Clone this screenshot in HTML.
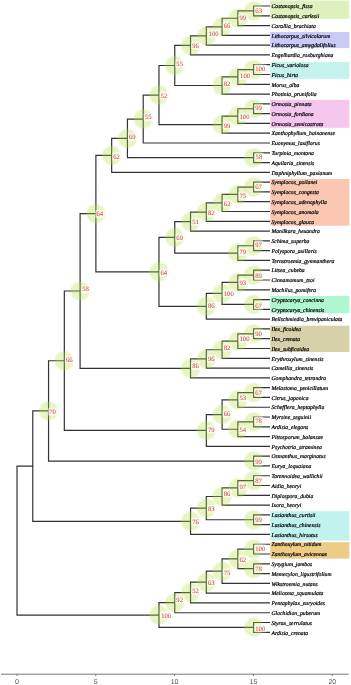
<!DOCTYPE html>
<html><head><meta charset="utf-8"><title>Phylogenetic tree</title>
<style>
html,body{margin:0;padding:0;background:#fff;}
body{width:351px;height:685px;overflow:hidden;}
svg{display:block;}
text{text-rendering:geometricPrecision;}
.lf{font-family:"Liberation Serif",serif;font-style:italic;font-weight:normal;font-size:5.7px;fill:#000;stroke:#000;stroke-width:0.2px;}
.bs{font-family:"Liberation Serif",serif;font-size:6.7px;fill:#d63445;}
.ax{font-family:"Liberation Sans",sans-serif;font-size:7px;fill:#555;}
</style></head><body>
<div id="w"><svg width="351" height="685" viewBox="0 0 351 685">
<defs><radialGradient id="cg"><stop offset="0" stop-color="#b3df43" stop-opacity="0.32"/><stop offset="0.8" stop-color="#b3df43" stop-opacity="0.32"/><stop offset="1" stop-color="#b3df43" stop-opacity="0"/></radialGradient></defs>
<g>
<rect width="351" height="685" fill="#fff"/>
<g>
<rect x="270.3" y="0.5" width="79" height="18.5" fill="#def0be"/>
<rect x="270.3" y="32" width="79" height="16.1" fill="#cacaf6"/>
<rect x="270.3" y="62.1" width="79" height="16.8" fill="#c3f3ec"/>
<rect x="270.3" y="99.9" width="79" height="27.9" fill="#f5c6ee"/>
<rect x="270.3" y="179" width="79" height="46.7" fill="#fbc6b2"/>
<rect x="270.3" y="296" width="79" height="17.3" fill="#aff7d0"/>
<rect x="270.3" y="325.7" width="79" height="26.3" fill="#d6d1a9"/>
<rect x="270.3" y="511.1" width="79" height="29.5" fill="#c0f3ee"/>
<rect x="270.3" y="542.2" width="79" height="16.4" fill="#eecb86"/>
</g>
<g stroke="#333" stroke-width="1.2" fill="none" stroke-linecap="square">
<path d="M253.64 6H269.42M253.64 15.79H269.42M237.86 10.89H253.64M237.86 25.57H269.42M222.09 18.23H237.86M222.09 35.36H269.42M206.31 26.8H222.09M206.31 45.14H269.42M190.54 35.97H206.31M190.54 54.93H269.42M174.76 45.45H190.54M253.64 64.72H269.42M253.64 74.5H269.42M237.86 69.61H253.64M237.86 84.29H269.42M222.09 76.95H237.86M222.09 94.07H269.42M174.76 85.51H222.09M158.98 65.48H174.76M253.64 103.86H269.42M253.64 113.65H269.42M237.86 108.75H253.64M237.86 123.43H269.42M222.09 116.09H237.86M222.09 133.22H269.42M158.98 124.66H222.09M143.21 95.07H158.98M143.21 143H269.42M127.43 119.04H143.21M253.64 152.79H269.42M253.64 162.58H269.42M127.43 157.68H253.64M111.66 138.36H127.43M111.66 172.36H269.42M95.88 155.36H111.66M253.64 182.15H269.42M253.64 191.93H269.42M237.86 187.04H253.64M237.86 201.72H269.42M222.09 194.38H237.86M222.09 211.51H269.42M206.31 202.94H222.09M206.31 221.29H269.42M190.54 212.12H206.31M190.54 231.08H269.42M174.76 221.6H190.54M253.64 240.86H269.42M253.64 250.65H269.42M237.86 245.76H253.64M237.86 260.44H269.42M174.76 253.1H237.86M158.98 237.35H174.76M253.64 270.22H269.42M253.64 280.01H269.42M237.86 275.12H253.64M237.86 289.79H269.42M222.09 282.45H237.86M253.64 299.58H269.42M253.64 309.37H269.42M222.09 304.47H253.64M206.31 293.46H222.09M206.31 319.15H269.42M158.98 306.31H206.31M95.88 271.83H158.98M80.1 213.59H95.88M253.64 328.94H269.42M253.64 338.72H269.42M237.86 333.83H253.64M237.86 348.51H269.42M222.09 341.17H237.86M222.09 358.3H269.42M206.31 349.73H222.09M206.31 368.08H269.42M190.54 358.91H206.31M190.54 377.87H269.42M80.1 368.39H190.54M64.33 290.99H80.1M253.64 387.65H269.42M253.64 397.44H269.42M237.86 392.55H253.64M237.86 407.23H269.42M222.09 399.89H237.86M253.64 417.01H269.42M253.64 426.8H269.42M237.86 421.9H253.64M237.86 436.58H269.42M222.09 429.24H237.86M206.31 414.57H222.09M206.31 446.37H269.42M64.33 430.47H206.31M48.55 360.73H64.33M253.64 456.16H269.42M253.64 465.94H269.42M48.55 461.05H253.64M32.78 410.89H48.55M253.64 475.73H269.42M253.64 485.51H269.42M237.86 480.62H253.64M237.86 495.3H269.42M222.09 487.96H237.86M222.09 505.09H269.42M206.31 496.52H222.09M253.64 514.87H269.42M253.64 524.66H269.42M206.31 519.76H253.64M190.54 508.14H206.31M190.54 534.44H269.42M32.78 521.29H190.54M17 466.09H32.78M253.64 544.23H269.42M253.64 554.02H269.42M237.86 549.12H253.64M253.64 563.8H269.42M253.64 573.59H269.42M237.86 568.69H253.64M222.09 558.91H237.86M222.09 583.37H269.42M206.31 571.14H222.09M206.31 593.16H269.42M190.54 582.15H206.31M190.54 602.95H269.42M174.76 592.55H190.54M174.76 612.73H269.42M158.98 602.64H174.76M253.64 622.52H269.42M253.64 632.3H269.42M158.98 627.41H253.64M17 615.03H158.98M253.64 6V15.79M237.86 10.89V25.57M222.09 18.23V35.36M206.31 26.8V45.14M190.54 35.97V54.93M253.64 64.72V74.5M237.86 69.61V84.29M222.09 76.95V94.07M174.76 45.45V85.51M253.64 103.86V113.65M237.86 108.75V123.43M222.09 116.09V133.22M158.98 65.48V124.66M143.21 95.07V143M253.64 152.79V162.58M127.43 119.04V157.68M111.66 138.36V172.36M253.64 182.15V191.93M237.86 187.04V201.72M222.09 194.38V211.51M206.31 202.94V221.29M190.54 212.12V231.08M253.64 240.86V250.65M237.86 245.76V260.44M174.76 221.6V253.1M253.64 270.22V280.01M237.86 275.12V289.79M253.64 299.58V309.37M222.09 282.45V304.47M206.31 293.46V319.15M158.98 237.35V306.31M95.88 155.36V271.83M253.64 328.94V338.72M237.86 333.83V348.51M222.09 341.17V358.3M206.31 349.73V368.08M190.54 358.91V377.87M80.1 213.59V368.39M253.64 387.65V397.44M237.86 392.55V407.23M253.64 417.01V426.8M237.86 421.9V436.58M222.09 399.89V429.24M206.31 414.57V446.37M64.33 290.99V430.47M253.64 456.16V465.94M48.55 360.73V461.05M253.64 475.73V485.51M237.86 480.62V495.3M222.09 487.96V505.09M253.64 514.87V524.66M206.31 496.52V519.76M190.54 508.14V534.44M32.78 410.89V521.29M253.64 544.23V554.02M253.64 563.8V573.59M237.86 549.12V568.69M222.09 558.91V583.37M206.31 571.14V593.16M190.54 582.15V602.95M174.76 592.55V612.73M253.64 622.52V632.3M158.98 602.64V627.41M17 466.09V615.03"/>
</g>
<g fill="url(#cg)">
<circle cx="253.64" cy="10.89" r="10.5"/>
<circle cx="237.86" cy="18.23" r="10.5"/>
<circle cx="222.09" cy="26.8" r="10.5"/>
<circle cx="206.31" cy="35.97" r="10.5"/>
<circle cx="190.54" cy="45.45" r="10.5"/>
<circle cx="253.64" cy="69.61" r="10.5"/>
<circle cx="237.86" cy="76.95" r="10.5"/>
<circle cx="222.09" cy="85.51" r="10.5"/>
<circle cx="174.76" cy="65.48" r="10.5"/>
<circle cx="253.64" cy="108.75" r="10.5"/>
<circle cx="237.86" cy="116.09" r="10.5"/>
<circle cx="222.09" cy="124.66" r="10.5"/>
<circle cx="158.98" cy="95.07" r="10.5"/>
<circle cx="143.21" cy="119.04" r="10.5"/>
<circle cx="253.64" cy="157.68" r="10.5"/>
<circle cx="127.43" cy="138.36" r="10.5"/>
<circle cx="111.66" cy="155.36" r="10.5"/>
<circle cx="253.64" cy="187.04" r="10.5"/>
<circle cx="237.86" cy="194.38" r="10.5"/>
<circle cx="222.09" cy="202.94" r="10.5"/>
<circle cx="206.31" cy="212.12" r="10.5"/>
<circle cx="190.54" cy="221.6" r="10.5"/>
<circle cx="253.64" cy="245.76" r="10.5"/>
<circle cx="237.86" cy="253.1" r="10.5"/>
<circle cx="174.76" cy="237.35" r="10.5"/>
<circle cx="253.64" cy="275.12" r="10.5"/>
<circle cx="237.86" cy="282.45" r="10.5"/>
<circle cx="253.64" cy="304.47" r="10.5"/>
<circle cx="222.09" cy="293.46" r="10.5"/>
<circle cx="206.31" cy="306.31" r="10.5"/>
<circle cx="158.98" cy="271.83" r="10.5"/>
<circle cx="95.88" cy="213.59" r="10.5"/>
<circle cx="253.64" cy="333.83" r="10.5"/>
<circle cx="237.86" cy="341.17" r="10.5"/>
<circle cx="222.09" cy="349.73" r="10.5"/>
<circle cx="206.31" cy="358.91" r="10.5"/>
<circle cx="190.54" cy="368.39" r="10.5"/>
<circle cx="80.1" cy="290.99" r="10.5"/>
<circle cx="253.64" cy="392.55" r="10.5"/>
<circle cx="237.86" cy="399.89" r="10.5"/>
<circle cx="253.64" cy="421.9" r="10.5"/>
<circle cx="237.86" cy="429.24" r="10.5"/>
<circle cx="222.09" cy="414.57" r="10.5"/>
<circle cx="206.31" cy="430.47" r="10.5"/>
<circle cx="64.33" cy="360.73" r="10.5"/>
<circle cx="253.64" cy="461.05" r="10.5"/>
<circle cx="48.55" cy="410.89" r="10.5"/>
<circle cx="253.64" cy="480.62" r="10.5"/>
<circle cx="237.86" cy="487.96" r="10.5"/>
<circle cx="222.09" cy="496.52" r="10.5"/>
<circle cx="253.64" cy="519.76" r="10.5"/>
<circle cx="206.31" cy="508.14" r="10.5"/>
<circle cx="190.54" cy="521.29" r="10.5"/>
<circle cx="253.64" cy="549.12" r="10.5"/>
<circle cx="253.64" cy="568.69" r="10.5"/>
<circle cx="237.86" cy="558.91" r="10.5"/>
<circle cx="222.09" cy="571.14" r="10.5"/>
<circle cx="206.31" cy="582.15" r="10.5"/>
<circle cx="190.54" cy="592.55" r="10.5"/>
<circle cx="174.76" cy="602.64" r="10.5"/>
<circle cx="253.64" cy="627.41" r="10.5"/>
<circle cx="158.98" cy="615.03" r="10.5"/>
</g>
<g fill="#fff" fill-opacity="0.6">
<rect x="254.34" y="6.69" width="9.1" height="8" rx="1.2"/>
<rect x="238.46" y="13.53" width="9.1" height="8" rx="1.2"/>
<rect x="222.69" y="21.8" width="9.1" height="8" rx="1.2"/>
<rect x="207.61" y="29.47" width="12.45" height="8" rx="1.2"/>
<rect x="191.14" y="41.45" width="9.1" height="8" rx="1.2"/>
<rect x="254.24" y="64.41" width="12.45" height="8" rx="1.2"/>
<rect x="239.06" y="71.95" width="12.45" height="8" rx="1.2"/>
<rect x="222.69" y="79.21" width="9.1" height="8" rx="1.2"/>
<rect x="175.36" y="60.08" width="9.1" height="8" rx="1.2"/>
<rect x="254.24" y="104.15" width="9.1" height="8" rx="1.2"/>
<rect x="238.46" y="112.89" width="12.45" height="8" rx="1.2"/>
<rect x="222.69" y="121.26" width="9.1" height="8" rx="1.2"/>
<rect x="159.58" y="91.57" width="9.1" height="8" rx="1.2"/>
<rect x="143.81" y="113.04" width="9.1" height="8" rx="1.2"/>
<rect x="254.54" y="152.78" width="9.1" height="8" rx="1.2"/>
<rect x="128.03" y="133.06" width="9.1" height="8" rx="1.2"/>
<rect x="112.26" y="152.36" width="9.1" height="8" rx="1.2"/>
<rect x="254.24" y="182.84" width="9.1" height="8" rx="1.2"/>
<rect x="238.46" y="191.48" width="9.1" height="8" rx="1.2"/>
<rect x="222.79" y="199.54" width="9.1" height="8" rx="1.2"/>
<rect x="206.91" y="209.02" width="9.1" height="8" rx="1.2"/>
<rect x="191.14" y="217.7" width="9.1" height="8" rx="1.2"/>
<rect x="254.24" y="240.46" width="9.1" height="8" rx="1.2"/>
<rect x="238.46" y="247.8" width="9.1" height="8" rx="1.2"/>
<rect x="175.36" y="233.85" width="9.1" height="8" rx="1.2"/>
<rect x="254.24" y="271.92" width="9.1" height="8" rx="1.2"/>
<rect x="238.46" y="278.25" width="9.1" height="8" rx="1.2"/>
<rect x="254.24" y="301.57" width="9.1" height="8" rx="1.2"/>
<rect x="222.69" y="289.26" width="12.45" height="8" rx="1.2"/>
<rect x="206.91" y="302.01" width="9.1" height="8" rx="1.2"/>
<rect x="159.38" y="268.93" width="9.1" height="8" rx="1.2"/>
<rect x="95.38" y="210.09" width="9.1" height="8" rx="1.2"/>
<rect x="254.24" y="329.43" width="9.1" height="8" rx="1.2"/>
<rect x="238.46" y="335.07" width="12.45" height="8" rx="1.2"/>
<rect x="222.69" y="343.53" width="9.1" height="8" rx="1.2"/>
<rect x="206.91" y="355.11" width="9.1" height="8" rx="1.2"/>
<rect x="191.14" y="361.99" width="9.1" height="8" rx="1.2"/>
<rect x="81.2" y="285.09" width="9.1" height="8" rx="1.2"/>
<rect x="254.24" y="388.85" width="9.1" height="8" rx="1.2"/>
<rect x="238.46" y="393.89" width="9.1" height="8" rx="1.2"/>
<rect x="254.24" y="416.7" width="9.1" height="8" rx="1.2"/>
<rect x="238.46" y="425.84" width="9.1" height="8" rx="1.2"/>
<rect x="222.69" y="409.77" width="9.1" height="8" rx="1.2"/>
<rect x="206.91" y="425.27" width="9.1" height="8" rx="1.2"/>
<rect x="64.93" y="355.53" width="9.1" height="8" rx="1.2"/>
<rect x="254.24" y="457.45" width="9.1" height="8" rx="1.2"/>
<rect x="48.25" y="407.69" width="9.1" height="8" rx="1.2"/>
<rect x="254.24" y="476.32" width="9.1" height="8" rx="1.2"/>
<rect x="238.46" y="482.46" width="9.1" height="8" rx="1.2"/>
<rect x="222.69" y="489.32" width="9.1" height="8" rx="1.2"/>
<rect x="254.24" y="515.97" width="9.1" height="8" rx="1.2"/>
<rect x="206.91" y="504.64" width="9.1" height="8" rx="1.2"/>
<rect x="191.14" y="517.79" width="9.1" height="8" rx="1.2"/>
<rect x="254.24" y="544.52" width="12.45" height="8" rx="1.2"/>
<rect x="254.24" y="565.09" width="9.1" height="8" rx="1.2"/>
<rect x="238.46" y="555.41" width="9.1" height="8" rx="1.2"/>
<rect x="222.69" y="568.84" width="9.1" height="8" rx="1.2"/>
<rect x="206.91" y="578.65" width="9.1" height="8" rx="1.2"/>
<rect x="191.14" y="586.75" width="9.1" height="8" rx="1.2"/>
<rect x="175.36" y="595.84" width="9.1" height="8" rx="1.2"/>
<rect x="254.24" y="624.31" width="12.45" height="8" rx="1.2"/>
<rect x="160.18" y="611.53" width="12.45" height="8" rx="1.2"/>
</g>
<g class="bs">
<text x="255.34" y="11.49" dominant-baseline="central">63</text>
<text x="239.46" y="18.33" dominant-baseline="central">99</text>
<text x="223.69" y="26.6" dominant-baseline="central">66</text>
<text x="208.61" y="34.27" dominant-baseline="central">100</text>
<text x="192.14" y="46.25" dominant-baseline="central">96</text>
<text x="255.24" y="69.21" dominant-baseline="central">100</text>
<text x="240.06" y="76.75" dominant-baseline="central">100</text>
<text x="223.69" y="84.01" dominant-baseline="central">82</text>
<text x="176.36" y="64.88" dominant-baseline="central">55</text>
<text x="255.24" y="108.95" dominant-baseline="central">99</text>
<text x="239.46" y="117.69" dominant-baseline="central">100</text>
<text x="223.69" y="126.06" dominant-baseline="central">99</text>
<text x="160.58" y="96.37" dominant-baseline="central">52</text>
<text x="144.81" y="117.84" dominant-baseline="central">55</text>
<text x="255.54" y="157.58" dominant-baseline="central">58</text>
<text x="129.03" y="137.86" dominant-baseline="central">69</text>
<text x="113.26" y="157.16" dominant-baseline="central">62</text>
<text x="255.24" y="187.64" dominant-baseline="central">67</text>
<text x="239.46" y="196.28" dominant-baseline="central">75</text>
<text x="223.79" y="204.34" dominant-baseline="central">62</text>
<text x="207.91" y="213.82" dominant-baseline="central">82</text>
<text x="192.14" y="222.5" dominant-baseline="central">51</text>
<text x="255.24" y="245.26" dominant-baseline="central">97</text>
<text x="239.46" y="252.6" dominant-baseline="central">79</text>
<text x="176.36" y="238.65" dominant-baseline="central">69</text>
<text x="255.24" y="276.72" dominant-baseline="central">89</text>
<text x="239.46" y="283.05" dominant-baseline="central">93</text>
<text x="255.24" y="306.37" dominant-baseline="central">67</text>
<text x="223.69" y="294.06" dominant-baseline="central">100</text>
<text x="207.91" y="306.81" dominant-baseline="central">86</text>
<text x="160.38" y="273.73" dominant-baseline="central">64</text>
<text x="96.38" y="214.89" dominant-baseline="central">64</text>
<text x="255.24" y="334.23" dominant-baseline="central">90</text>
<text x="239.46" y="339.87" dominant-baseline="central">100</text>
<text x="223.69" y="348.33" dominant-baseline="central">82</text>
<text x="207.91" y="359.91" dominant-baseline="central">96</text>
<text x="192.14" y="366.79" dominant-baseline="central">86</text>
<text x="82.2" y="289.89" dominant-baseline="central">58</text>
<text x="255.24" y="393.65" dominant-baseline="central">67</text>
<text x="239.46" y="398.69" dominant-baseline="central">53</text>
<text x="255.24" y="421.5" dominant-baseline="central">78</text>
<text x="239.46" y="430.64" dominant-baseline="central">54</text>
<text x="223.69" y="414.57" dominant-baseline="central">66</text>
<text x="207.91" y="430.07" dominant-baseline="central">79</text>
<text x="65.93" y="360.33" dominant-baseline="central">66</text>
<text x="255.24" y="462.25" dominant-baseline="central">99</text>
<text x="49.25" y="412.49" dominant-baseline="central">70</text>
<text x="255.24" y="481.12" dominant-baseline="central">87</text>
<text x="239.46" y="487.26" dominant-baseline="central">97</text>
<text x="223.69" y="494.12" dominant-baseline="central">86</text>
<text x="255.24" y="520.76" dominant-baseline="central">99</text>
<text x="207.91" y="509.44" dominant-baseline="central">83</text>
<text x="192.14" y="522.59" dominant-baseline="central">76</text>
<text x="255.24" y="549.32" dominant-baseline="central">100</text>
<text x="255.24" y="569.89" dominant-baseline="central">78</text>
<text x="239.46" y="560.21" dominant-baseline="central">62</text>
<text x="223.69" y="573.64" dominant-baseline="central">75</text>
<text x="207.91" y="583.45" dominant-baseline="central">63</text>
<text x="192.14" y="591.55" dominant-baseline="central">52</text>
<text x="176.36" y="600.64" dominant-baseline="central">92</text>
<text x="255.24" y="629.11" dominant-baseline="central">100</text>
<text x="161.18" y="616.33" dominant-baseline="central">100</text>
</g>
<g class="lf">
<text x="271.52" y="8.25">Castanopsis_fissa</text>
<text x="271.52" y="18.04">Castanopsis_carlesii</text>
<text x="271.52" y="27.82">Carallia_brachiata</text>
<text x="271.52" y="37.61">Lithocarpus_silvicolarum</text>
<text x="271.52" y="47.39">Lithocarpus_amygdalifolius</text>
<text x="271.52" y="57.18">Engelhardia_roxburghiana</text>
<text x="271.52" y="66.97">Ficus_variolosa</text>
<text x="271.52" y="76.75">Ficus_hirta</text>
<text x="271.52" y="86.54">Morus_alba</text>
<text x="271.52" y="96.32">Photinia_prunifolia</text>
<text x="271.52" y="106.11">Ormosia_pinnata</text>
<text x="271.52" y="115.9">Ormosia_fordiana</text>
<text x="271.52" y="125.68">Ormosia_semicastrata</text>
<text x="271.52" y="135.47">Xanthophyllum_hainanense</text>
<text x="271.52" y="145.25">Euonymus_laxiflorus</text>
<text x="271.52" y="155.04">Turpinia_montana</text>
<text x="271.52" y="164.83">Aquilaria_sinensis</text>
<text x="271.52" y="174.61">Daphniphyllum_paxianum</text>
<text x="271.52" y="184.4">Symplocos_poilanei</text>
<text x="271.52" y="194.18">Symplocos_congesta</text>
<text x="271.52" y="203.97">Symplocos_adenophylla</text>
<text x="271.52" y="213.76">Symplocos_anomala</text>
<text x="271.52" y="223.54">Symplocos_glauca</text>
<text x="271.52" y="233.33">Manilkara_hexandra</text>
<text x="271.52" y="243.11">Schima_superba</text>
<text x="271.52" y="252.9">Polyspora_axillaris</text>
<text x="271.52" y="262.69">Ternstroemia_gymnanthera</text>
<text x="271.52" y="272.47">Litsea_cubeba</text>
<text x="271.52" y="282.26">Cinnamomum_tsoi</text>
<text x="271.52" y="292.04">Machilus_pomifera</text>
<text x="271.52" y="301.83">Cryptocarya_concinna</text>
<text x="271.52" y="311.62">Cryptocarya_chinensis</text>
<text x="271.52" y="321.4">Beilschmiedia_brevipaniculata</text>
<text x="271.52" y="331.19">Ilex_ficoidea</text>
<text x="271.52" y="340.97">Ilex_crenata</text>
<text x="271.52" y="350.76">Ilex_subficoidea</text>
<text x="271.52" y="360.55">Erythroxylum_sinensis</text>
<text x="271.52" y="370.33">Camellia_sinensis</text>
<text x="271.52" y="380.12">Gomphandra_tetrandra</text>
<text x="271.52" y="389.9">Melastoma_penicillatum</text>
<text x="271.52" y="399.69">Citrus_japonica</text>
<text x="271.52" y="409.48">Schefflera_heptaphylla</text>
<text x="271.52" y="419.26">Myrsine_seguinii</text>
<text x="271.52" y="429.05">Ardisia_elegans</text>
<text x="271.52" y="438.83">Pittosporum_balansae</text>
<text x="271.52" y="448.62">Psychotria_straminea</text>
<text x="271.52" y="458.41">Osmanthus_marginatus</text>
<text x="271.52" y="468.19">Eurya_loquaiana</text>
<text x="271.52" y="477.98">Tarennoidea_wallichii</text>
<text x="271.52" y="487.76">Aidia_henryi</text>
<text x="271.52" y="497.55">Diplospora_dubia</text>
<text x="271.52" y="507.34">Ixora_henryi</text>
<text x="271.52" y="517.12">Lasianthus_curtisii</text>
<text x="271.52" y="526.91">Lasianthus_chinensis</text>
<text x="271.52" y="536.69">Lasianthus_hirsutus</text>
<text x="271.52" y="546.48">Zanthoxylum_nitidum</text>
<text x="271.52" y="556.27">Zanthoxylum_avicennae</text>
<text x="271.52" y="566.05">Syzygium_jambos</text>
<text x="271.52" y="575.84">Memecylon_ligustrifolium</text>
<text x="271.52" y="585.62">Wikstroemia_nutans</text>
<text x="271.52" y="595.41">Meliosma_squamulata</text>
<text x="271.52" y="605.2">Pentaphylax_euryoides</text>
<text x="271.52" y="614.98">Glochidion_puberum</text>
<text x="271.52" y="624.77">Styrax_serrulatus</text>
<text x="271.52" y="634.55">Ardisia_crenata</text>
</g>
<g stroke="#555" stroke-width="0.8" fill="none"><path d="M1 674.2H348.6M16.9 674.2V676M95.75 674.2V676M174.6 674.2V676M253.45 674.2V676M332.3 674.2V676"/></g>
<g class="ax" text-anchor="middle">
<text x="16.9" y="683.5">0</text>
<text x="95.75" y="683.5">5</text>
<text x="174.6" y="683.5">10</text>
<text x="253.45" y="683.5">15</text>
<text x="332.3" y="683.5">20</text>
</g>
</g>
</svg></div>
</body></html>
